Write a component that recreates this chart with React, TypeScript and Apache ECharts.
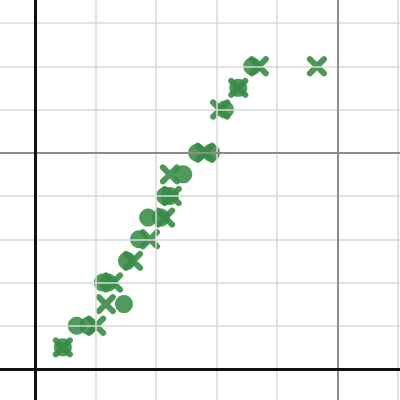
import React, { useEffect, useRef } from "react";
import * as echarts from "echarts";

// Circle points: [x, y]
const circleX = [0.46, 0.69, 0.88, 1.47, 1.12, 1.21, 1.52, 1.72, 1.87, 2.08, 2.15, 2.23, 2.45, 2.68, 2.91, 3.14, 3.36, 3.59];
const circleY = [1, 2, 2, 3, 4, 4, 5, 6, 7, 7, 8, 8, 9, 10, 10, 12, 13, 14];

// Cross points: [x, y]
const crossX = [0.46, 1.01, 1.17, 1.29, 1.62, 1.9, 2.15, 2.26, 2.23, 2.81, 3.06, 3.36, 3.7, 4.66];
const crossY = [1, 2, 3, 4, 5, 6, 7, 8, 9, 10, 12, 13, 14, 14];

// Grid lines
const xMinorLines = [1, 2, 3, 4, 6];
const yMinorLines = [2, 4, 6, 8, 12, 14, 16];
const xMajorLines = [5];
const yMajorLines = [10];

const GREEN = "#388c46";
const CROSS_PATH =
  "path://M0 4.6A3.25 3.25 0 0 1 4.6 0L10 5.4L15.4 0A3.25 3.25 0 0 1 20 4.6L14.6 10L20 15.4A3.25 3.25 0 0 1 15.4 20L10 14.6L4.6 20A3.25 3.25 0 0 1 0 15.4L5.4 10Z";

export default function App() {
  const ref = useRef<HTMLDivElement>(null);
  useEffect(() => {
    if (!ref.current) return;
    const chart = echarts.init(ref.current, undefined, { renderer: "svg" });
    // view window: origin at pixel (35, 369); 60.5 px per x unit, 21.625 px per y unit
    const xPx = 60.5;
    const yPx = 21.625;
    const xMin = -35 / xPx;
    const xMax = 365 / xPx;
    const yMin = -31 / yPx;
    const yMax = 369 / yPx;
    const circles = circleX.map((x, i) => [x, circleY[i]]);
    const crosses = crossX.map((x, i) => [x, crossY[i]]);
    const minorStyle = { color: "#d9d9d9", width: 1.5, type: "solid" };
    const majorStyle = { color: "#8c8c8c", width: 2, type: "solid" };
    const axisStyle = { color: "#111111", width: 3, type: "solid" };
    chart.setOption({
      animation: false,
      backgroundColor: "#ffffff",
      grid: { left: 0, top: 0, right: 0, bottom: 0, containLabel: false },
      xAxis: {
        type: "value",
        min: xMin,
        max: xMax,
        axisLine: { show: false },
        axisTick: { show: false },
        axisLabel: { show: false },
        splitLine: { show: false },
      },
      yAxis: {
        type: "value",
        min: yMin,
        max: yMax,
        axisLine: { show: false },
        axisTick: { show: false },
        axisLabel: { show: false },
        splitLine: { show: false },
      },
      series: [
        {
          type: "line",
          data: [],
          silent: true,
          z: 1,
          markLine: {
            silent: true,
            symbol: "none",
            label: { show: false },
            animation: false,
            data: [
              ...xMinorLines.map((v) => ({ xAxis: v, lineStyle: minorStyle })),
              ...yMinorLines.map((v) => ({ yAxis: v, lineStyle: minorStyle })),
              ...xMajorLines.map((v) => ({ xAxis: v, lineStyle: majorStyle })),
              ...yMajorLines.map((v) => ({ yAxis: v, lineStyle: majorStyle })),
              { xAxis: 0, lineStyle: axisStyle },
              { yAxis: 0, lineStyle: axisStyle },
            ],
          },
        },
        {
          type: "scatter",
          data: crosses,
          symbol: CROSS_PATH,
          symbolSize: 20,
          z: 3,
          itemStyle: { color: GREEN, opacity: 0.9 },
        },
        {
          type: "scatter",
          data: circles,
          symbol: "circle",
          symbolSize: 18,
          z: 4,
          itemStyle: { color: GREEN, opacity: 0.88 },
        },
      ],
    });
    return () => chart.dispose();
  }, []);
  return (
    <div
      ref={ref}
      style={{ position: "absolute", left: 0, top: 0, width: 400, height: 400 }}
    />
  );
}
